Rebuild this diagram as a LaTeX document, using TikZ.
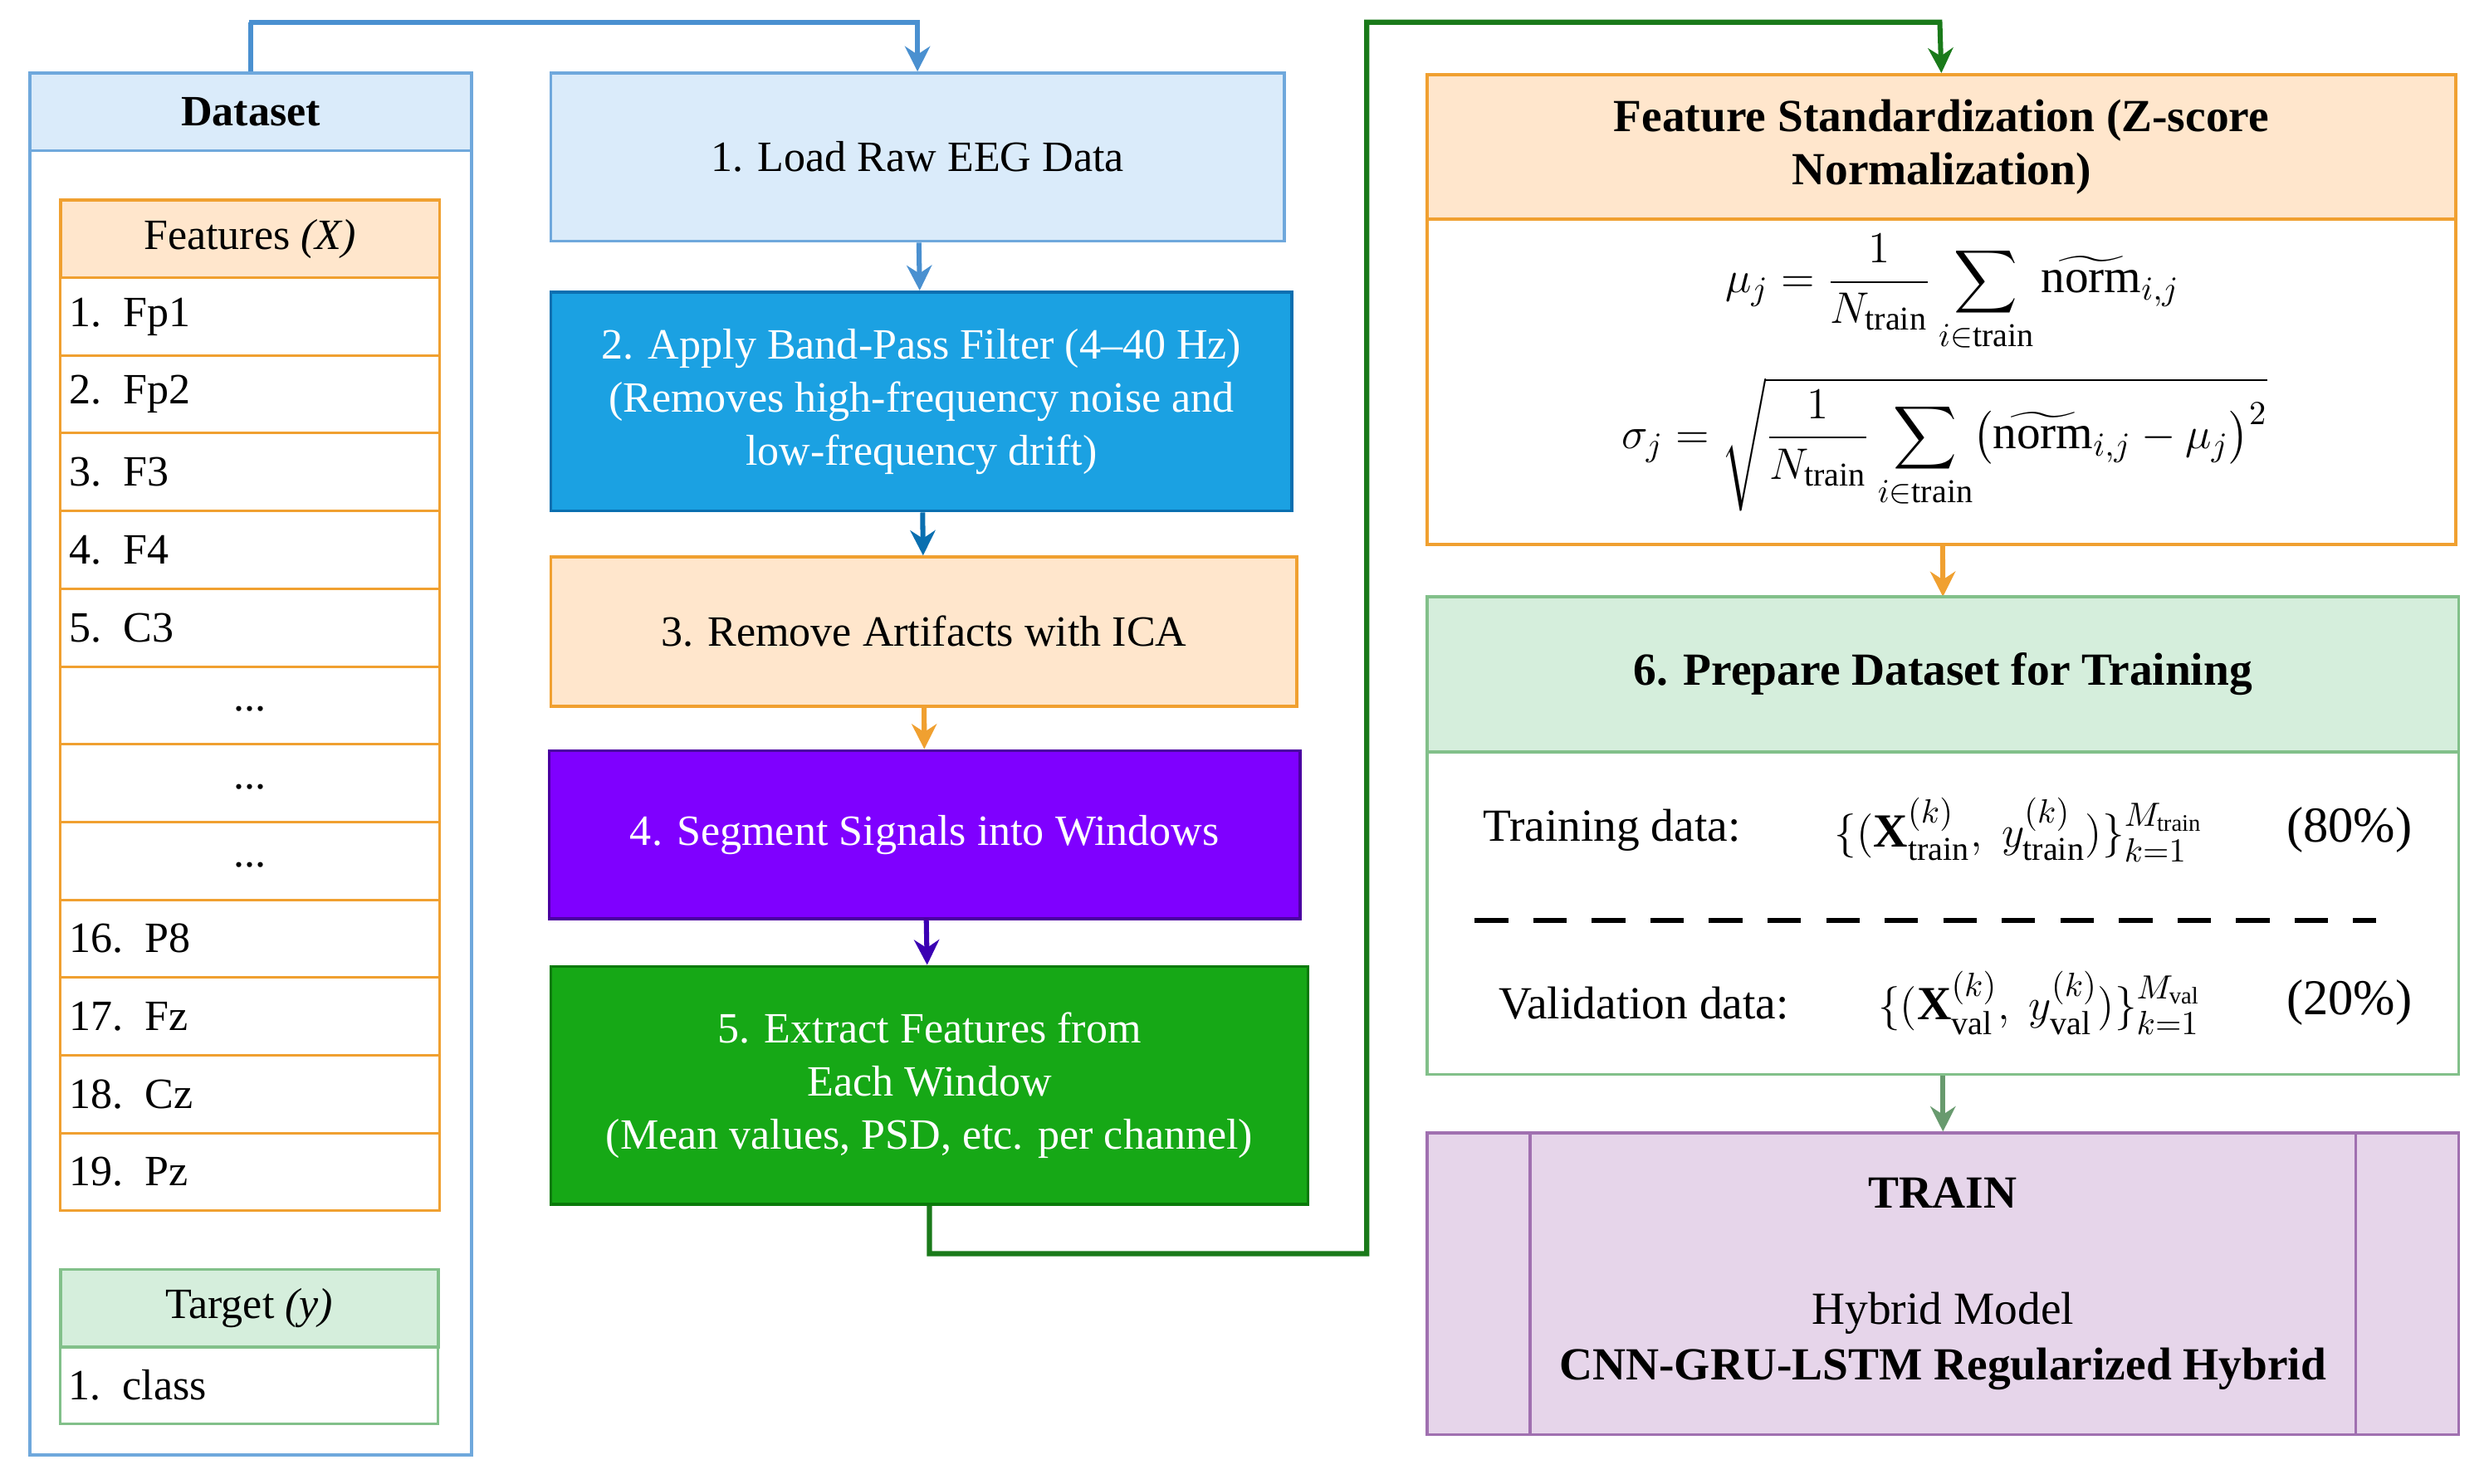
\documentclass[tikz,border=0pt]{standalone}
\usepackage{amsmath}
\usepackage{fontspec}
\setmainfont{Liberation Serif}
\usetikzlibrary{arrows.meta}
\definecolor{lblue}{HTML}{DAEBFA}
\definecolor{bblue}{HTML}{6FA8DC}
\definecolor{cyanf}{HTML}{1BA1E2}
\definecolor{cyanb}{HTML}{0A6FB0}
\definecolor{lorange}{HTML}{FFE6CC}
\definecolor{borange}{HTML}{F0A030}
\definecolor{purp}{HTML}{7F00FF}
\definecolor{purpb}{HTML}{4A00A0}
\definecolor{grn}{HTML}{16A816}
\definecolor{grnb}{HTML}{0A7A0A}
\definecolor{lgreen}{HTML}{D5EEDC}
\definecolor{bgreen}{HTML}{82C08A}
\definecolor{lav}{HTML}{E6D5EA}
\definecolor{blav}{HTML}{A070B0}
\definecolor{arrblue}{HTML}{4A90D0}
\definecolor{darkgreen}{HTML}{1A7A1A}
\begin{document}
\begin{tikzpicture}[x=0.02cm,y=-0.02cm,
 font=\fontsize{15.5}{19}\selectfont,
 box/.style={draw,line width=1.1pt,align=center,inner sep=2pt},
 row/.style={draw=borange,line width=0.9pt,minimum width=4.78cm,minimum height=0.98cm,text width=4.55cm,align=left,inner sep=0pt},
 conn/.style={line width=1.8pt,-{Stealth[length=9pt,width=9pt]}},
 fm/.style={scale=1.1}]
\useasboundingbox (0,0) rectangle (1568,935);
% Dataset
\draw[bblue,line width=1.1pt] (19,46) rectangle (297,917);
\node[box,draw=bblue,fill=lblue,minimum width=5.56cm,minimum height=0.98cm] (ds) at (158,70.5) {\textbf{Dataset}};
\node[box,draw=borange,fill=lorange,minimum width=4.78cm,minimum height=0.98cm] (fh) at (157.5,150.5) {Features \textit{(X)}};
\foreach \t [count=\i] in {1. Fp1,2. Fp2,3. F3,4. F4,5. C3,,,,16. P8,17. Fz,18. Cz,19. Pz}{
  \node[row] (r\i) at (157.5,{175+49*\i-24.5}) {\t};}
\foreach \i in {6,7,8}{\node at (157.5,{175+49*\i-22}) {...};}
\node[box,draw=bgreen,fill=lgreen,minimum width=4.76cm,minimum height=0.98cm] (th) at (157,824.5) {Target \textit{(y)}};
\node[row,draw=bgreen,minimum width=4.76cm,minimum height=0.96cm] (t1) at (157,873) {1. class};
% middle
\node[box,draw=bblue,fill=lblue,minimum width=9.24cm,minimum height=2.12cm] (b1) at (578,99) {1. Load Raw EEG Data};
\node[box,draw=cyanb,fill=cyanf,text=white,minimum width=9.34cm,minimum height=2.76cm] (b2) at (580.5,253) {2. Apply Band-Pass Filter (4--40 Hz)\\(Removes high-frequency noise and\\low-frequency drift)};
\node[box,draw=borange,fill=lorange,minimum width=9.4cm,minimum height=1.88cm] (b3) at (582,398) {3. Remove Artifacts with ICA};
\node[box,draw=purpb,fill=purp,text=white,minimum width=9.46cm,minimum height=2.12cm] (b4) at (582.5,526) {4. Segment Signals into Windows};
\node[box,draw=grnb,fill=grn,text=white,minimum width=9.54cm,minimum height=3.0cm] (b5) at (585.5,684) {5. Extract Features from\\Each Window\\(Mean values, PSD, etc. per channel)};
\draw[conn,arrblue] (ds.north) |- (157,14) -| (b1.north);
\draw[conn,arrblue] (b1) -- (b2);
\draw[conn,cyanb] (b2) -- (b3);
\draw[conn,borange] (b3) -- (b4);
\draw[conn,purpb!80!blue] (b4) -- (b5);
% right
\node[box,draw=borange,fill=lorange,minimum width=12.96cm,minimum height=1.82cm] (fs) at (1223,92.5) {\fontsize{16.5}{20}\selectfont\textbf{Feature Standardization (Z-score}\\\fontsize{16.5}{20}\selectfont\textbf{Normalization)}};
\node[box,draw=borange,minimum width=12.96cm,minimum height=4.1cm] (fb) at (1223,240.5) {};
\node[fm] (mu) at (1230,185) {$\displaystyle \mu_j=\frac{1}{N_{\mathrm{train}}}\sum_{i\in\mathrm{train}}\widetilde{\mathrm{norm}}_{i,j}$};
\node[fm] (sg) at (1225,280) {$\displaystyle \sigma_j=\sqrt{\frac{1}{N_{\mathrm{train}}}\sum_{i\in\mathrm{train}}\bigl(\widetilde{\mathrm{norm}}_{i,j}-\mu_j\bigr)^2}$};
\draw[conn,borange] (fb) -- (1224,376);
\node[box,draw=bgreen,fill=lgreen,minimum width=13.0cm,minimum height=1.96cm] (ph) at (1224,425) {\fontsize{16.5}{20}\selectfont\textbf{6. Prepare Dataset for Training}};
\node[box,draw=bgreen,minimum width=13.0cm,minimum height=4.06cm] (pb) at (1224,575.5) {};
\node[anchor=west,font=\fontsize{16.5}{20}\selectfont] (trl) at (928,523) {Training data:};
\node[fm] (trm) at (1272,523) {$\{(\mathbf{X}^{(k)}_{\mathrm{train}},\ y^{(k)}_{\mathrm{train}})\}_{k=1}^{M_{\mathrm{train}}}$};
\node[font=\fontsize{18}{20}\selectfont] (trp) at (1480,523) {(80\%)};
\node[anchor=west,font=\fontsize{16.5}{20}\selectfont] (vl) at (938,632) {Validation data:};
\node[fm] (vm) at (1285,632) {$\{(\mathbf{X}^{(k)}_{\mathrm{val}},\ y^{(k)}_{\mathrm{val}})\}_{k=1}^{M_{\mathrm{val}}}$};
\node[font=\fontsize{18}{20}\selectfont] (vp) at (1480,632) {(20\%)};
\draw[line width=2pt,dash pattern=on 12pt off 9pt] (929,580) -- (1497,580);
\node[box,draw=blav,fill=lav,minimum width=13.0cm,minimum height=3.8cm,font=\fontsize{16.5}{20}\selectfont] (tr) at (1224,809) {\textbf{TRAIN}\\[1.3em]Hybrid Model\\\textbf{CNN-GRU-LSTM Regularized Hybrid}};
\draw[blav,line width=1.1pt] (964,714) -- (964,904) (1484,714) -- (1484,904);
\draw[conn,bgreen!80!black] (pb) -- (tr);
\draw[conn,darkgreen] (b5.south) |- (861,790) |- (1222,14) -- (fs.north);
\end{tikzpicture}
\end{document}
